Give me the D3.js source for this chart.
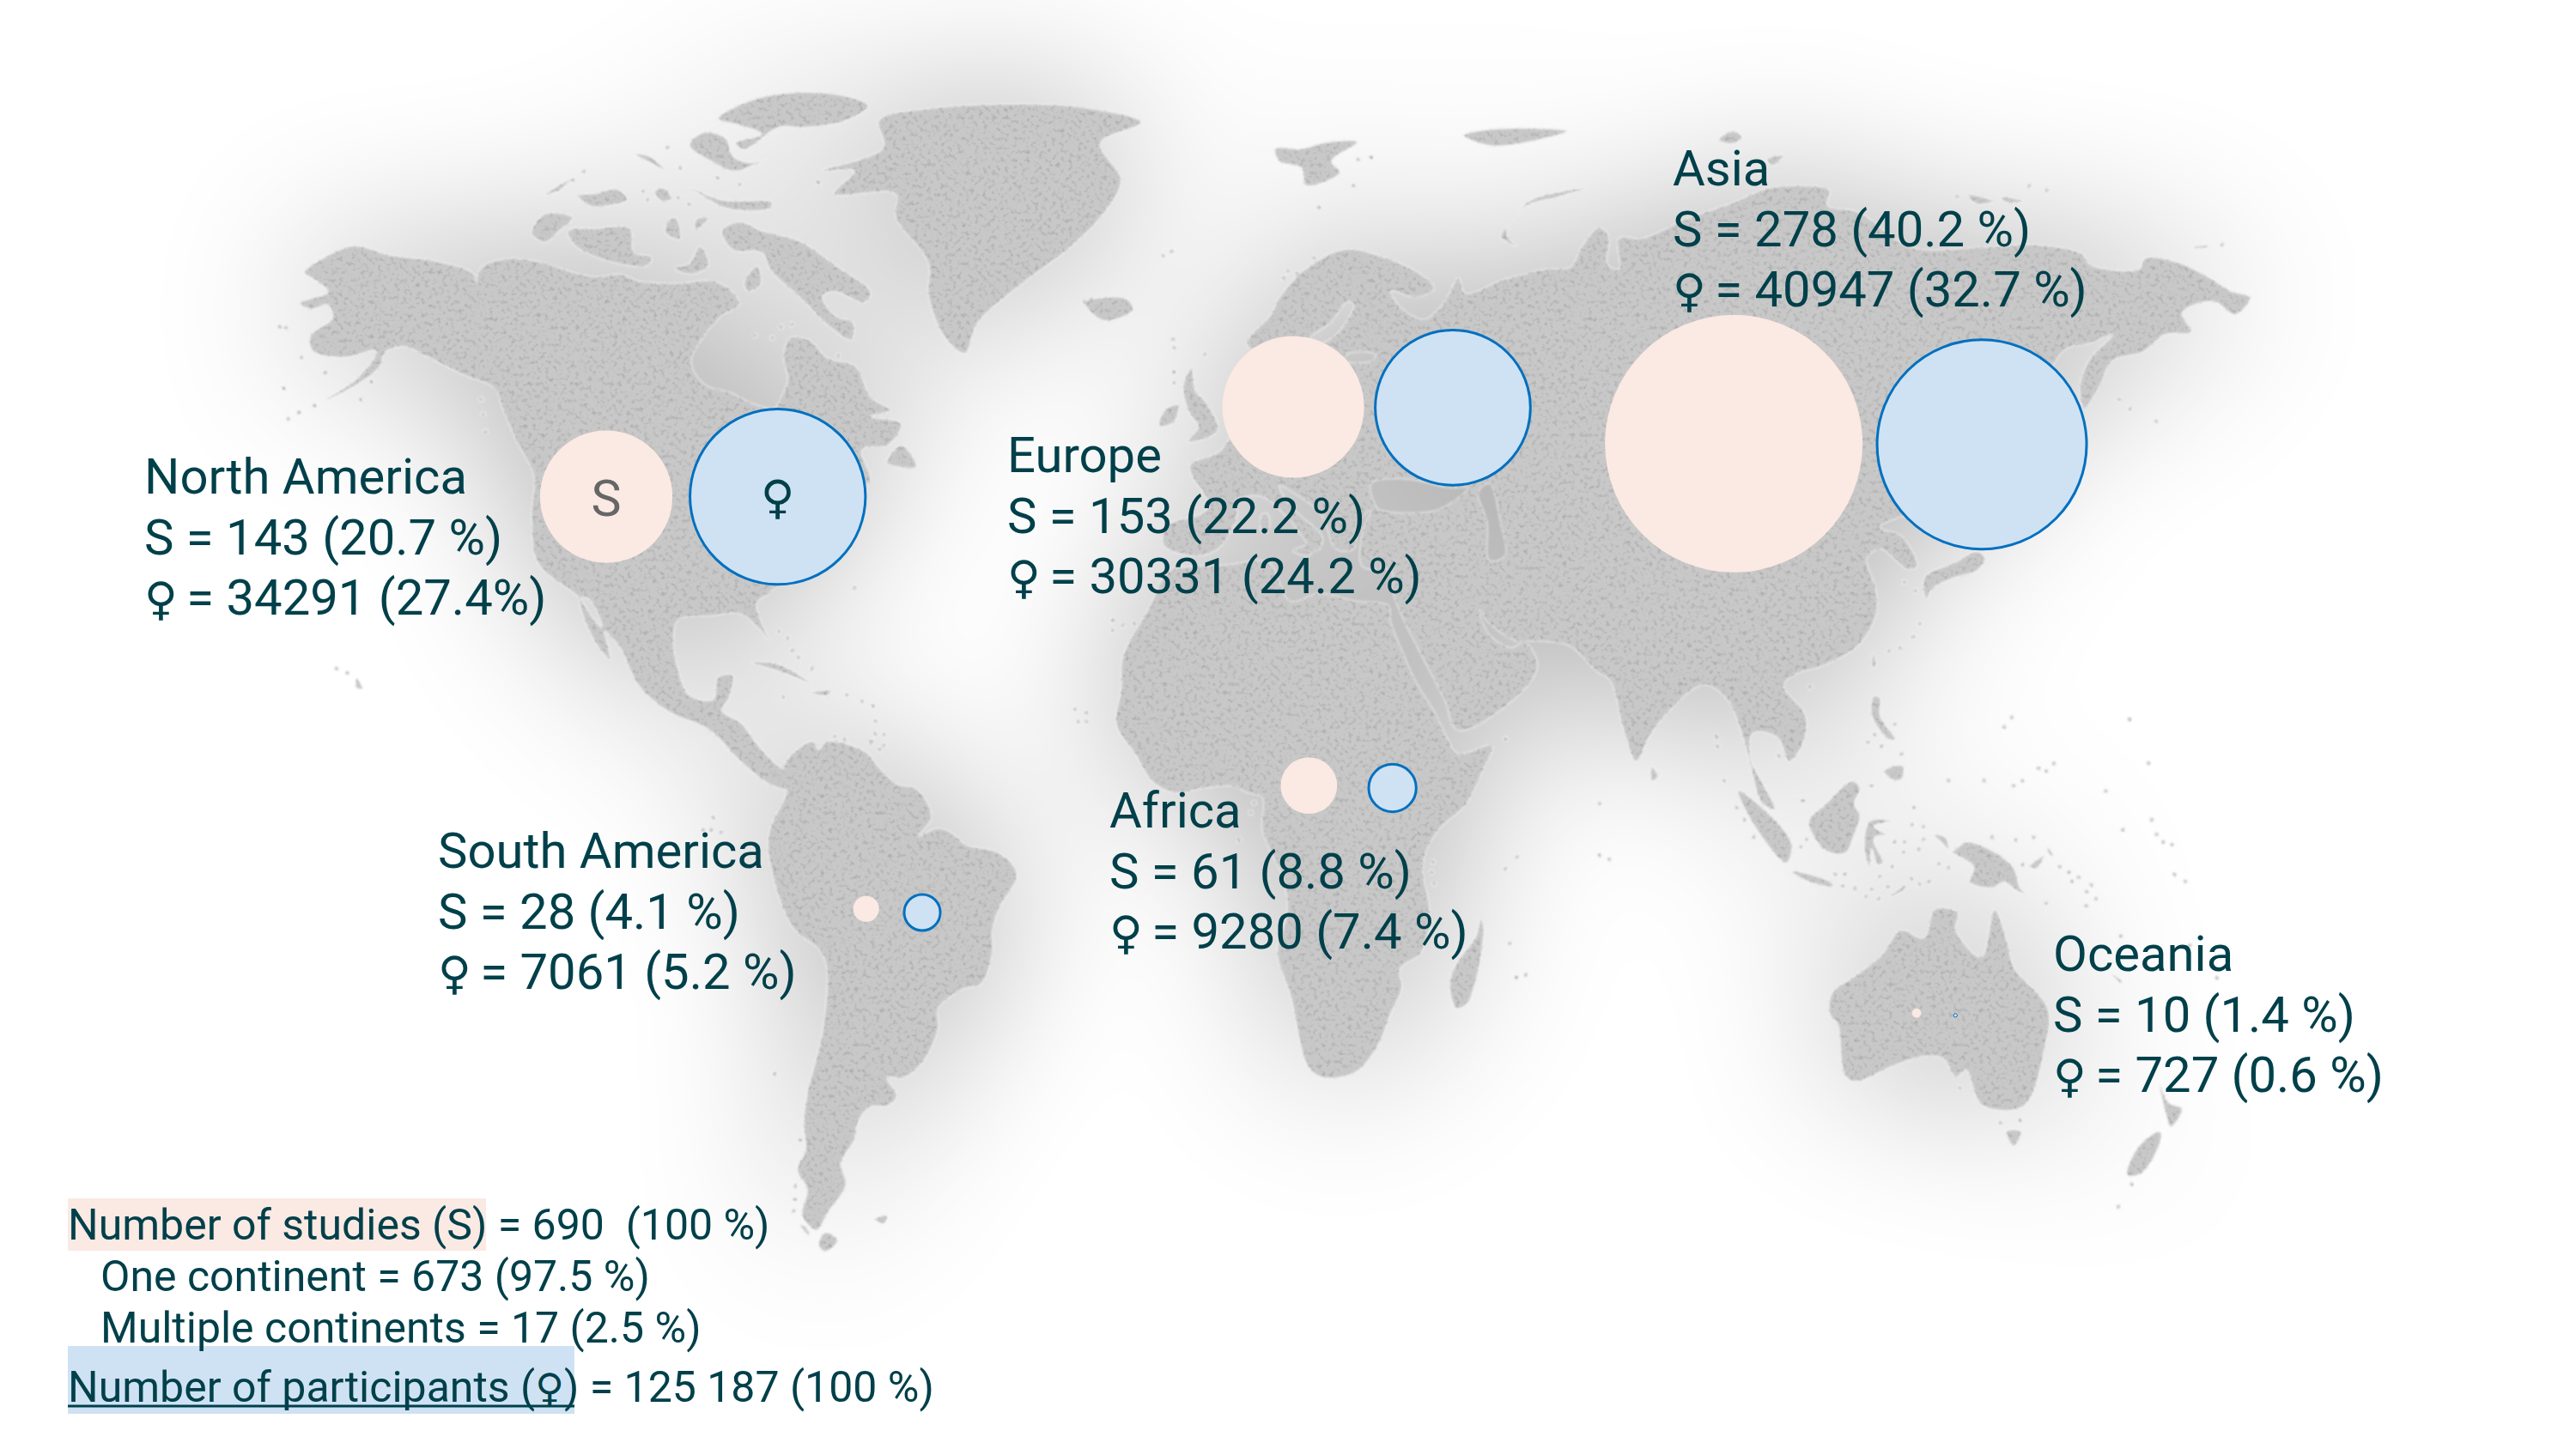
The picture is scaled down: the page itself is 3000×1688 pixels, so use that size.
<!DOCTYPE html>
<html>
<head>
<meta charset="utf-8">
<script src="https://cdn.jsdelivr.net/npm/d3@7"></script>
<style>
  html, body { margin: 0; background: #fff; }
  text { font-family: Roboto, sans-serif; fill: #00404a; white-space: pre; }
  .venus { font-family: "DejaVu Sans", sans-serif; }
</style>
</head>
<body>
<script>
const width = 3000;
const height = 1688;

// continents and their values
const continents = ["North America", "Europe", "Asia", "South America", "Africa", "Oceania"];
const studies = [143, 153, 278, 28, 61, 10];
const studyShare = ["20.7 %", "22.2 %", "40.2 %", "4.1 %", "8.8 %", "1.4 %"];
const participants = [34291, 30331, 40947, 7061, 9280, 727];
const participantShare = ["27.4%", "24.2 %", "32.7 %", "5.2 %", "7.4 %", "0.6 %"];

// where each bubble sits on the map (degrees)
const studyLon = [-112.1, 15.3, 97.0, -63.9, 18.2, 130.9];
const studyLat = [41.8, 52.8, 48.3, -9.6, 6.4, -23.7];
const participantLon = [-80.3, 44.9, 143.0, -53.5, 33.7, 138.1];
const participantLat = [41.8, 52.7, 48.2, -10.1, 6.1, -24.0];

// legend lines
const venus = "\u2640";
const legendLines = [
  ["Number of studies (S) = 690  (100 %)"],
  ["One continent = 673 (97.5 %)"],
  ["Multiple continents = 17 (2.5 %)"],
  ["Number of participants (", venus, ") = 125 187 (100 %)"]
];

const crop = (x, y, w, h) => ({
  x: d3.scaleLinear().domain([0, 1568]).range([x, x + w]),
  y: d3.scaleLinear().domain([0, 1568]).range([y, y + h])
});
const cropWest = crop(0, 0, 1500, 844);
const cropNA = crop(300, 90, 800, 800);
const cropEurasia = crop(1250, 150, 800, 800);
const cropAfrica = crop(1250, 700, 600, 600);
const cropSA = crop(800, 850, 600, 600);
const cropPacific = crop(1950, 800, 700, 700);

const outlinesWest = [
  // Greenland
  [[1130,235],[1250,225],[1330,235],[1390,265],[1340,310],[1365,390],[1340,470],[1300,540],[1240,620],[1190,700],[1175,765],[1150,730],[1130,640],[1130,570],[1090,470],[1090,420],[1015,420],[1040,370],[1000,370],[1075,320],[1070,260]],
  // Iceland
  [[1320,655],[1370,645],[1380,670],[1345,695],[1325,670]]
];

const outlinesNA = [
  // mainland down to Panama
  [[105,445],[215,385],[300,405],[410,420],[495,450],[497,472],[510,435],[560,415],[640,420],[720,445],[770,455],[830,450],[870,465],[960,470],[1040,465],[1085,490],[1100,520],[1060,545],[1020,590],[990,650],[1020,700],[1080,720],[1130,745],[1180,755],[1190,740],[1210,690],[1200,640],[1215,595],[1260,600],[1300,640],[1365,660],[1400,730],[1445,760],[1400,775],[1470,790],[1440,840],[1380,850],[1400,920],[1380,940],[1300,1060],[1165,1180],[1140,1200],[1145,1230],[1170,1290],[1145,1260],[1100,1225],[1040,1230],[960,1240],[950,1290],[960,1350],[985,1410],[1040,1420],[1050,1370],[1085,1365],[1075,1420],[1060,1445],[1105,1475],[1135,1515],[1165,1550],[1200,1580],[1245,1595],[1250,1625],[1180,1620],[1105,1565],[1030,1490],[940,1450],[870,1390],[825,1300],[770,1240],[735,1190],[640,1110],[625,1000],[630,910],[590,830],[560,760],[540,710],[470,680],[390,640],[330,615],[290,630],[280,660],[230,700],[150,740],[235,680],[270,625],[200,640],[125,625],[120,590],[170,550],[160,520],[120,530],[95,515],[160,490],[110,450]],
  // Baja
  [[735,1190],[760,1195],[805,1330],[770,1290]],
  // Baffin
  [[1060,350],[1100,330],[1150,350],[1240,375],[1320,430],[1400,490],[1385,515],[1320,490],[1290,500],[1320,545],[1360,560],[1355,600],[1300,565],[1245,510],[1170,440],[1150,400],[1085,395]],
  // Victoria
  [[710,350],[770,345],[850,345],[860,400],[900,410],[890,430],[800,420],[720,380]],
  // Banks
  [[625,355],[655,312],[720,320],[690,350],[655,378]],
  // Ellesmere
  [[1050,95],[1150,45],[1320,38],[1395,65],[1340,100],[1250,115],[1190,115],[1110,165],[1090,150],[1150,130],[1100,110]],
  // Axel Heiberg
  [[985,155],[1020,125],[1070,140],[1085,180],[1130,195],[1170,180],[1090,215],[1040,195]],
  // Melville
  [[730,270],[770,265],[820,255],[845,280],[790,295],[760,295]],
  // Devon
  [[985,250],[1060,280],[1175,285],[1170,300],[1070,300],[1030,280]],
  // smaller arctic islands
  [[655,268],[715,232],[690,258]],
  [[860,175],[895,180],[930,212],[895,195]],
  [[905,262],[925,252],[945,275],[925,285]],
  [[940,325],[955,320],[965,370],[930,355]],
  [[1000,350],[1030,320],[1000,325]],
  [[1110,470],[1140,430],[1150,470],[1120,490]],
  [[950,435],[985,425],[1010,385],[1030,430],[985,450]],
  // Newfoundland
  [[1435,880],[1470,840],[1505,890],[1460,890]],
  // Cuba, Hispaniola
  [[1125,1335],[1190,1340],[1265,1385],[1200,1360]],
  [[1260,1405],[1310,1400],[1300,1412]],
  // Hawaii
  [[225,1370],[240,1395],[225,1395]]
];

const dotsNA = [[50,570],[65,572],[100,640],[155,675],[60,710],[130,750],[95,765],[70,780],[260,695],[235,735],[510,735],[515,770],[520,810],[180,1350],[205,1360],[935,160],[965,208],[880,260],[890,280],[960,275],[985,290],[745,215],[720,235],[1050,230],[1100,245],[1180,435],[1220,465],[1190,450],[1135,590],[1175,595],[1195,570],[1220,565],[1325,635],[1363,1165],[1280,240],[1190,1265],[1210,1280],[1220,1310],[1235,1325],[1265,1350],[1200,1415],[1345,1410],[1380,1425],[1405,1435],[1410,1470],[1410,1500],[1430,1525],[1400,1520]];

const outlinesEurasia = [
  // Eurasia, clockwise from Portugal
  [[205,950],[215,905],[290,880],[310,860],[265,770],[340,730],[420,520],[395,490],[450,425],[470,385],[530,320],[620,275],[700,290],[790,330],[825,365],[780,385],[725,370],[745,405],[800,435],[830,415],[850,390],[880,340],[895,375],[980,345],[1080,320],[1135,315],[1160,270],[1200,225],[1222,245],[1220,310],[1245,320],[1245,250],[1300,250],[1400,205],[1502,170],[1587,135],[1672,130],[1727,140],[1722,175],[1792,190],[1912,270],[2072,270],[2202,265],[2302,285],[2322,310],[2432,320],[2447,295],[2522,305],[2602,345],[2642,370],[2687,385],[2652,425],[2602,395],[2532,420],[2552,465],[2492,470],[2442,510],[2372,530],[2342,590],[2307,640],[2297,590],[2317,530],[2372,470],[2322,490],[2272,500],[2242,530],[2100,800],[1842,910],[1892,930],[1927,1000],[1902,1005],[1872,980],[1842,960],[1812,980],[1832,1050],[1834,1105],[1792,1180],[1702,1230],[1662,1240],[1622,1270],[1672,1340],[1667,1400],[1634,1445],[1607,1390],[1552,1380],[1547,1440],[1572,1490],[1603,1555],[1572,1540],[1542,1440],[1525,1380],[1490,1300],[1440,1270],[1390,1300],[1320,1380],[1285,1445],[1255,1370],[1225,1260],[1195,1240],[1130,1180],[1050,1170],[1010,1170],[950,1130],[925,1095],[950,1155],[1000,1185],[1030,1172],[1060,1225],[1020,1290],[878,1374],[847,1303],[796,1205],[751,1115],[730,1060],[725,1010],[660,1000],[660,920],[680,870],[650,900],[640,960],[600,960],[565,880],[500,830],[470,815],[500,865],[570,935],[555,965],[490,890],[430,840],[370,850],[375,880],[330,960],[270,975]],
  // Black Sea, Caspian, Baltic gulfs (cut out)
  [[690,860],[680,810],[760,800],[860,820],[900,820],[830,870],[700,870]],
  [[925,830],[950,810],[975,900],[985,975],[950,985],[945,900]],
  [[625,395],[640,400],[600,470],[560,490],[540,480],[590,440]],
  [[625,515],[690,515],[680,530],[620,530]]
];

const islandsEurasia = [
  // Britain, Ireland
  [[270,545],[280,600],[300,620],[330,690],[260,715],[285,680],[265,650],[250,590]],
  [[195,680],[210,640],[240,630],[230,670]],
  // Svalbard, Franz Josef, Novaya Zemlya
  [[460,45],[520,45],[580,30],[650,30],[590,75],[610,100],[530,130],[520,90],[470,75]],
  [[890,15],[960,0],[1130,5],[960,40]],
  [[1170,135],[1040,165],[1000,215],[975,245],[1015,270],[990,240],[1030,180],[1110,155]],
  // Sri Lanka
  [[1320,1455],[1335,1480],[1320,1490]],
  // Sicily, Sardinia
  [[500,965],[545,950],[540,975]],
  [[430,880],[445,880],[445,920],[430,920]],
  // Japan
  [[1942,1025],[2012,990],[2062,965],[2082,980],[2062,1010],[2012,1025],[1962,1050],[1947,1075]],
  // Taiwan
  [[1827,1195],[1832,1230],[1822,1225]],
  // Philippines
  [[1827,1295],[1842,1300],[1842,1340],[1877,1395],[1862,1395],[1822,1340]],
  // Severnaya, New Siberian, Wrangel
  [[1472,25],[1507,5],[1527,20],[1502,35]],
  [[1582,70],[1622,60],[1597,85]],
  [[2042,150],[2102,165],[2062,172]],
  [[2117,155],[2172,165],[2127,168]],
  [[2552,272],[2592,265],[2587,272]]
];

const dotsEurasia = [[550,295],[490,325],[510,330],[480,340],[225,280],[205,290],[640,130],[560,180],[650,70],[680,65],[228,480],[230,500],[230,555],[230,580],[300,515],[40,390],[25,395],[1897,1035],[1922,1055],[1932,1130],[1917,1160],[1887,1185],[1862,1192],[1682,1275],[2387,618],[2412,640],[2472,668],[2182,130],[2222,140],[2017,155],[2622,265],[1468,1390],[1470,1410]];

const outlinesAfrica = [
  [[360,-105],[290,-90],[230,20],[150,170],[145,270],[130,375],[190,470],[240,550],[310,585],[400,570],[490,565],[530,585],[575,600],[575,700],[640,850],[650,950],[620,1070],[660,1200],[715,1420],[760,1452],[860,1435],[930,1350],[965,1260],[1000,1180],[995,1120],[1060,1070],[1085,950],[1065,800],[1110,700],[1195,620],[1245,520],[1275,440],[1170,465],[1140,420],[1100,340],[1040,240],[1000,150],[965,60],[960,15],[860,0],[747,-23],[660,0],[593,-118],[467,-110]],
  // Madagascar
  [[1240,965],[1250,1000],[1200,1225],[1165,1240],[1145,1165],[1165,1105],[1225,1020]]
];

const dotsAfrica = [[120,60],[150,75],[185,68],[120,90],[5,330],[40,340],[15,368],[40,368],[1095,795],[1090,825],[1098,862],[1315,815],[1350,780],[1328,1043],[1348,1147],[1377,1138],[1315,420],[505,728],[540,645],[550,615]];

const outlinesSA = [
  [[335,60],[385,35],[400,60],[425,35],[540,65],[590,120],[640,165],[700,180],[745,265],[705,325],[760,300],[800,310],[850,350],[950,375],[1005,440],[950,545],[930,610],[930,680],[895,775],[840,790],[765,850],[765,910],[720,1010],[660,1060],[610,1060],[640,1115],[610,1145],[555,1150],[520,1200],[510,1250],[470,1320],[485,1385],[430,1470],[395,1525],[350,1480],[365,1400],[335,1340],[360,1280],[355,1200],[365,1110],[415,900],[415,690],[320,600],[250,395],[250,310],[305,180],[295,110]],
  // Tierra del Fuego, Falklands
  [[345,1510],[360,1510],[375,1545]],
  [[420,1530],[460,1555],[420,1590],[400,1568]],
  [[570,1490],[610,1478],[600,1505]]
];

const dotsSA = [[345,1250],[330,1390],[330,1430],[325,1465],[268,1047],[80,268],[50,305],[75,305],[105,312],[450,20],[480,30],[560,35],[585,60],[600,15]];

const outlinesPacific = [
  // Australia, Tasmania
  [[410,800],[470,755],[540,700],[590,635],[650,655],[680,580],[740,590],[735,635],[800,705],[835,580],[870,670],[885,730],[975,840],[965,950],[925,1080],[885,1105],[800,1090],[760,1000],[735,1020],[700,970],[650,965],[570,990],[475,1030],[445,1015],[425,880],[405,855]],
  [[865,1160],[905,1160],[885,1200]],
  // New Zealand
  [[1265,1160],[1270,1180],[1220,1270],[1180,1275],[1210,1200]],
  [[1265,1035],[1290,1085],[1325,1100],[1295,1150],[1280,1110]],
  // New Guinea
  [[675,385],[710,395],[720,430],[765,405],[880,465],[905,530],[930,550],[890,530],[860,510],[830,525],[770,510],[780,470],[720,430],[690,400]],
  // Borneo, Sumatra, Java, Sulawesi
  [[465,245],[485,265],[470,305],[485,335],[470,385],[445,435],[390,425],[350,350],[390,310]],
  [[165,270],[200,290],[305,405],[295,460],[280,455],[200,350]],
  [[305,480],[410,510],[415,522],[340,505]],
  [[510,350],[565,350],[520,365],[550,385],[520,395],[545,460],[530,465],[515,420],[510,475],[495,420]],
  // Mindanao, Timor, Solomons, New Caledonia
  [[545,220],[595,205],[595,240],[575,245]],
  [[560,550],[605,515],[600,530]],
  [[925,470],[965,440],[945,475]],
  [[970,415],[990,440],[980,440]],
  [[1140,750],[1170,770],[1165,775]]
];

const dotsPacific = [[880,80],[860,105],[1187,85],[990,200],[970,220],[950,213],[1237,200],[715,245],[808,245],[885,258],[908,245],[1125,272],[1245,348],[1170,373],[1258,385],[1275,405],[1298,412],[1305,490],[1333,508],[828,393],[890,400],[937,393],[1030,483],[1055,497],[1088,517],[1075,535],[1100,553],[1075,572],[1037,508],[1005,470],[970,565],[908,465],[625,315],[620,360],[650,365],[650,398],[575,405],[600,405],[598,432],[638,425],[690,462],[715,472],[568,470],[535,495],[420,490],[445,490],[440,520],[470,527],[515,528],[558,522],[500,547],[533,553],[640,515],[665,508],[618,500],[515,258],[335,298],[162,315],[183,348],[207,393],[130,245],[110,130],[112,155],[272,180],[505,145],[522,125],[540,155],[575,98],[593,175],[330,418],[345,398],[745,1047],[850,1138],[902,1132],[1193,1298],[1158,1357],[1165,650],[1415,760],[1345,675],[-170,450],[-195,305],[-195,440]];

// the map in the picture: longitude is linear, latitude stretches toward the north
const lonScale = d3.scaleLinear().domain([-180, 180]).range([279.6, 2540.4]);
const latScale = d3.scaleLinear().domain([-55, 0, 65]).range([1450, 976, 358]);

// bubble radius is linear in the value
const studyRadius = d3.scaleLinear().domain([0, 278]).range([0, 150]);
const participantRadius = d3.scaleLinear().domain([0, 40947]).range([0, 122]);

const svg = d3.select("body")
  .append("svg")
  .attr("width", width)
  .attr("height", height)
  .style("display", "block");

// filters for the soft shadow and the speckled land
const defs = svg.append("defs");
defs.append("filter")
  .attr("id", "shadow")
  .attr("filterUnits", "userSpaceOnUse")
  .attr("x", 0).attr("y", 0).attr("width", width).attr("height", height)
  .append("feGaussianBlur")
  .attr("stdDeviation", 100);

const grain = defs.append("filter")
  .attr("id", "grain")
  .attr("filterUnits", "userSpaceOnUse")
  .attr("x", 0).attr("y", 0).attr("width", width).attr("height", height)
  .attr("color-interpolation-filters", "sRGB");
grain.append("feGaussianBlur")
  .attr("in", "SourceGraphic").attr("stdDeviation", 1.6).attr("result", "soft");
grain.append("feTurbulence")
  .attr("type", "fractalNoise").attr("baseFrequency", 0.2).attr("numOctaves", 2).attr("seed", 7).attr("result", "noise");
grain.append("feColorMatrix")
  .attr("in", "noise").attr("type", "matrix")
  .attr("values", "0.36 0 0 0 0.82  0.36 0 0 0 0.82  0.36 0 0 0 0.82  0 0 0 0 1")
  .attr("result", "speck");
grain.append("feBlend")
  .attr("in", "soft").attr("in2", "speck").attr("mode", "multiply").attr("result", "mixed");
grain.append("feComposite")
  .attr("in", "mixed").attr("in2", "soft").attr("operator", "in");

const ringPath = d3.line().curve(d3.curveCatmullRomClosed.alpha(0.5));

const allRings = [
  [outlinesWest, cropWest],
  [outlinesNA, cropNA],
  [outlinesEurasia, cropEurasia],
  [islandsEurasia, cropEurasia],
  [outlinesAfrica, cropAfrica],
  [outlinesSA, cropSA],
  [outlinesPacific, cropPacific]
];
const allDots = [
  [dotsNA, cropNA],
  [dotsEurasia, cropEurasia],
  [dotsAfrica, cropAfrica],
  [dotsSA, cropSA],
  [dotsPacific, cropPacific]
];

function drawLand(group) {
  allRings.forEach(([rings, c]) => {
    group.append("path")
      .attr("fill-rule", "evenodd")
      .attr("d", rings.map(r => ringPath(r.map(p => [c.x(p[0]), c.y(p[1])]))).join(""));
  });
  allDots.forEach(([dots, c]) => {
    group.selectAll(null)
      .data(dots)
      .enter()
      .append("circle")
      .attr("cx", d => c.x(d[0]))
      .attr("cy", d => c.y(d[1]))
      .attr("r", 3);
  });
}

const shadow = svg.append("g")
  .attr("filter", "url(#shadow)")
  .attr("fill", "#000")
  .attr("opacity", 0.3);
drawLand(shadow);

const land = svg.append("g")
  .attr("filter", "url(#grain)")
  .attr("fill", "#c8c8c8");
drawLand(land);

// bubbles
svg.selectAll("circle.study")
  .data(continents)
  .enter()
  .append("circle")
  .attr("class", "study")
  .attr("cx", (d, i) => lonScale(studyLon[i]))
  .attr("cy", (d, i) => latScale(studyLat[i]))
  .attr("r", (d, i) => studyRadius(studies[i]))
  .attr("fill", "#fbe9e3");

svg.selectAll("circle.participant")
  .data(continents)
  .enter()
  .append("circle")
  .attr("class", "participant")
  .attr("cx", (d, i) => lonScale(participantLon[i]))
  .attr("cy", (d, i) => latScale(participantLat[i]))
  .attr("r", (d, i) => participantRadius(participants[i]))
  .attr("fill", "#cfe2f3")
  .attr("stroke", "#0070c0")
  .attr("stroke-width", (d, i) => participants[i] < 1000 ? 1 : 3);

// the two key letters in the North America bubbles
svg.append("text")
  .attr("x", lonScale(studyLon[0]))
  .attr("y", latScale(studyLat[0]) + 22)
  .attr("text-anchor", "middle")
  .attr("font-size", 59)
  .style("fill", "#666666")
  .text("S");
svg.append("text")
  .attr("class", "venus")
  .attr("x", lonScale(participantLon[0]))
  .attr("y", latScale(participantLat[0]) + 19)
  .attr("text-anchor", "middle")
  .attr("font-size", 54)
  .text(venus);

// continent labels, first baseline of each block
const labelX = [168, 1173, 1948, 510, 1292, 2391];
const labelY = [575, 550, 216, 1011, 964, 1131];
const labelStep = 70.5;

continents.forEach((name, i) => {
  const block = svg.append("text").attr("font-size", 58);
  block.append("tspan")
    .attr("x", labelX[i])
    .attr("y", labelY[i])
    .text(name);
  block.append("tspan")
    .attr("x", labelX[i])
    .attr("y", labelY[i] + labelStep)
    .text(`S = ${studies[i]} (${studyShare[i]})`);
  block.append("tspan")
    .attr("class", "venus")
    .attr("x", labelX[i])
    .attr("y", labelY[i] + 2 * labelStep)
    .attr("font-size", 53)
    .text(venus);
  block.append("tspan")
    .attr("dx", -4)
    .text(` = ${participants[i]} (${participantShare[i]})`);
});

// legend with its highlighted parts
svg.append("rect")
  .attr("x", 79).attr("y", 1396).attr("width", 487).attr("height", 61)
  .attr("fill", "#fbe9e3");
svg.append("rect")
  .attr("x", 79).attr("y", 1568).attr("width", 590).attr("height", 79)
  .attr("fill", "#cfe2f3");
svg.append("line")
  .attr("x1", 79).attr("x2", 669).attr("y1", 1638).attr("y2", 1638)
  .attr("stroke", "#00404a").attr("stroke-width", 3);

const legendX = [79, 117, 117, 79];
const legendY = [1444, 1504, 1564, 1633];
legendLines.forEach((parts, i) => {
  const line = svg.append("text")
    .attr("x", legendX[i])
    .attr("y", legendY[i])
    .attr("font-size", 50);
  parts.forEach(part => {
    const span = line.append("tspan").text(part);
    if (part === venus) span.attr("class", "venus").attr("font-size", 46);
  });
});
</script>
</body>
</html>
